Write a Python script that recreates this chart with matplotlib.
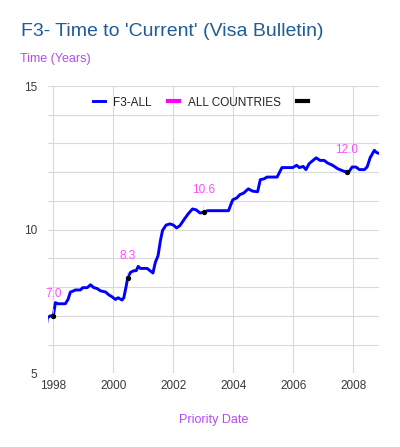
import numpy as np
import matplotlib
matplotlib.use("Agg")
import matplotlib.pyplot as plt

plt.rcParams['font.family'] = ['Liberation Sans', 'DejaVu Sans']

# 数据: 优先日期 (年份小数) 与 等待时间 (年)
priority_date = [
    1997.74, 1997.80, 1997.90, 1998.00, 1998.07, 1998.15, 1998.40, 1998.49,
    1998.57, 1998.68, 1998.73, 1998.90, 1998.98, 1999.13, 1999.24, 1999.35,
    1999.46, 1999.57, 1999.74, 1999.85, 1999.96, 2000.07, 2000.16, 2000.29,
    2000.35, 2000.43, 2000.48, 2000.57, 2000.68, 2000.76, 2000.83, 2000.90,
    2001.13, 2001.20, 2001.32, 2001.40, 2001.49, 2001.57, 2001.64, 2001.76,
    2001.89, 2002.00, 2002.11, 2002.22, 2002.37, 2002.51, 2002.64, 2002.76,
    2002.89, 2003.01, 2003.14, 2003.84, 2003.98, 2004.11, 2004.22, 2004.34,
    2004.50, 2004.64, 2004.81, 2004.90, 2005.03, 2005.12, 2005.46, 2005.62,
    2005.98, 2006.11, 2006.20, 2006.33, 2006.42, 2006.53, 2006.76, 2006.89,
    2007.03, 2007.14, 2007.31, 2007.48, 2007.62, 2007.78, 2007.87, 2007.96,
    2008.09, 2008.20, 2008.37, 2008.46, 2008.56, 2008.70, 2008.78, 2008.87,
]
f3_all = [
    6.43, 6.93, 7.00, 7.00, 7.46, 7.42, 7.42, 7.57,
    7.83, 7.87, 7.90, 7.90, 7.98, 7.98, 8.08, 7.98,
    7.95, 7.87, 7.83, 7.73, 7.66, 7.57, 7.63, 7.55,
    7.63, 8.04, 8.33, 8.51, 8.57, 8.57, 8.72, 8.65,
    8.65, 8.59, 8.49, 8.86, 9.09, 9.62, 9.97, 10.16,
    10.20, 10.16, 10.06, 10.14, 10.37, 10.57, 10.72, 10.69,
    10.58, 10.60, 10.66, 10.66, 11.04, 11.10, 11.22, 11.27,
    11.42, 11.34, 11.32, 11.74, 11.77, 11.83, 11.83, 12.16,
    12.16, 12.24, 12.16, 12.20, 12.09, 12.30, 12.50, 12.41,
    12.41, 12.32, 12.24, 12.12, 12.06, 12.00, 12.04, 12.18,
    12.18, 12.09, 12.09, 12.18, 12.50, 12.76, 12.68, 12.65,
]

# 标注点
mark_x = [1998.00, 2000.48, 2003.01, 2007.78]
mark_y = [7.0, 8.3, 10.6, 12.0]
mark_labels = ["7.0", "8.3", "10.6", "12.0"]

year_ticks = [1998, 2000, 2002, 2004, 2006, 2008]
value_ticks = [5, 10, 15]

fig = plt.figure(figsize=(4.0, 4.47), dpi=100)
ax = fig.add_axes([0.1208, 0.1649, 0.8275, 0.6427])

ax.plot(priority_date, f3_all, color='#0000ff', linewidth=2.1, label='F3-ALL',
        solid_joinstyle='round', zorder=3)
ax.plot([], [], color='#ff00ff', linewidth=3, label='ALL COUNTRIES')
ax.plot([], [], color='black', linewidth=3, label=' ')
ax.scatter(mark_x, mark_y, s=8, color='black', zorder=4)

for x, y, t in zip(mark_x, mark_y, mark_labels):
    ax.annotate(t, (x, y), xytext=(0, 16), textcoords='offset points',
                ha='center', va='center', fontsize=8.5, color='#ff4dff',
                arrowprops=dict(arrowstyle='-', color='#dddddd', lw=0.6,
                                shrinkA=5, shrinkB=2), zorder=5)

ax.set_xlim(1997.833, 2008.867)
ax.set_ylim(5, 15)
ax.set_xticks(year_ticks)
ax.set_xticklabels([str(y) for y in year_ticks])
ax.set_yticks(value_ticks)
ax.set_yticks(np.arange(5, 16, 1), minor=True)
ax.grid(True, which='both', axis='y', color='#d9d9d9', linewidth=0.8)
ax.grid(True, which='major', axis='x', color='#d9d9d9', linewidth=0.8)
ax.set_axisbelow(True)
for s in ax.spines.values():
    s.set_visible(False)
ax.tick_params(axis='both', which='both', length=0, labelsize=8.5,
               labelcolor='#3a3a3a')
ax.tick_params(axis='y', pad=8)
ax.tick_params(axis='x', pad=5)

leg = ax.legend(loc='upper center', bbox_to_anchor=(0.478, 1.0), ncol=3,
                frameon=False, fontsize=8.5, handlelength=1.0,
                handletextpad=0.7, columnspacing=1.35)
for txt in leg.get_texts():
    txt.set_color('#222222')

fig.text(0.052, 0.930, "F3- Time to 'Current' (Visa Bulletin)", fontsize=14,
         color='#1f5c99', ha='left', va='center')
fig.text(0.050, 0.868, "Time (Years)", fontsize=9, color='#b44cf2',
         ha='left', va='center')
fig.text(0.533, 0.060, "Priority Date", fontsize=9, color='#b44cf2',
         ha='center', va='center')

fig.savefig('out.png', dpi=100)
